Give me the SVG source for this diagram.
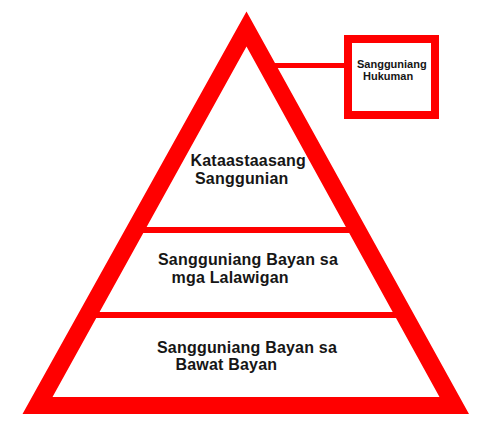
<svg xmlns="http://www.w3.org/2000/svg" width="492" height="429" viewBox="0 0 492 429">
  <style>
    .red { fill: #ff0000; }
    .lbl { font-family: "Liberation Sans", Arial, sans-serif; font-weight: bold; fill: #161616; }
    .big { font-size: 16px; letter-spacing: 0.2px; }
    .small { font-size: 11px; }
  </style>
  <rect width="492" height="429" fill="#ffffff"/>
  <g id="connectors">
    <rect class="red" x="268" y="63" width="82" height="5"/>
  </g>
  <g id="pyramid">
    <path class="red" fill-rule="evenodd" d="M246.5 11.5 L22.5 414 L469 414 Z M246.5 46.5 L52.5 397 L439.5 397 Z"/>
    <rect class="red" x="140" y="227" width="215" height="6"/>
    <rect class="red" x="90" y="312" width="313" height="6"/>
  </g>
  <g id="tier-top">
    <text class="lbl big" x="190.5" y="165.5">Kataastaasang</text>
    <text class="lbl big" x="195" y="183.5">Sanggunian</text>
  </g>
  <g id="tier-middle">
    <text class="lbl big" x="158" y="264.5">Sangguniang Bayan sa</text>
    <text class="lbl big" x="171.5" y="282.5">mga Lalawigan</text>
  </g>
  <g id="tier-bottom">
    <text class="lbl big" x="157" y="352.5">Sangguniang Bayan sa</text>
    <text class="lbl big" x="175.5" y="370">Bawat Bayan</text>
  </g>
  <g id="hukuman">
    <rect x="348" y="39" width="87" height="76" fill="#ffffff" stroke="#ff0000" stroke-width="8"/>
    <text class="lbl small" x="357" y="67.5">Sangguniang</text>
    <text class="lbl small" x="363" y="79.5">Hukuman</text>
  </g>
</svg>
